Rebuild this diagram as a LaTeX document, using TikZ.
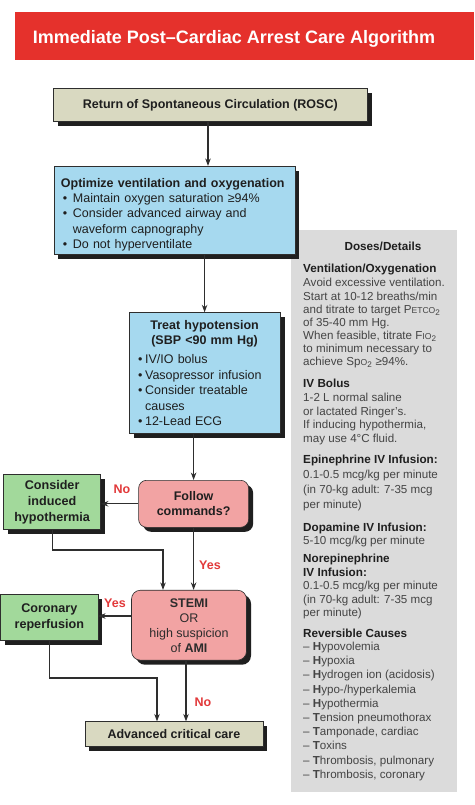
\documentclass[tikz,border=0pt]{standalone}
\usepackage{fontspec}
\setmainfont{Liberation Sans}
\usetikzlibrary{arrows.meta,shadows,calc}
\definecolor{titlered}{HTML}{E5312C}
\definecolor{boxbeige}{HTML}{D9D9C1}
\definecolor{boxblue}{HTML}{A6D9EF}
\definecolor{boxpink}{HTML}{F2A3A3}
\definecolor{boxgreen}{HTML}{A2D99B}
\definecolor{panelgray}{HTML}{DBDBDB}
\definecolor{labelred}{HTML}{E2393A}
\definecolor{linegray}{HTML}{2E2E2E}
\definecolor{txtdark}{HTML}{1F1F1F}
\definecolor{txtbody}{HTML}{2C2C2C}
\definecolor{ptxtgray}{HTML}{444444}
\newcommand{\boxfont}{\fontsize{12.5}{15.2}\selectfont}
\newcommand{\bul}{\makebox[10pt][l]{\textbullet}}
\newcommand{\tbul}{\makebox[7pt][l]{\textbullet}}
\newcommand{\smc}[1]{{\fontsize{8.6}{10}\selectfont #1}}
\begin{document}
\begin{tikzpicture}[x=1pt,y=-1pt,
  flowbox/.style={draw=linegray, line width=0.6pt, inner sep=3pt, text=txtdark, font=\boxfont,
    drop shadow={shadow xshift=4.5pt, shadow yshift=-4.5pt, fill=black!88, opacity=1}},
  conn/.style={draw=linegray, line width=1.1pt, -{Stealth[length=7.5pt,width=5.5pt]}},
  lbl/.style={font=\bfseries\fontsize{12.5}{14}\selectfont, text=labelred, inner sep=0pt},
  ptxt/.style={font=\fontsize{11.6}{14}\selectfont, text=ptxtgray, inner sep=0pt, anchor=base west},
  phead/.style={ptxt, font=\bfseries\fontsize{11.7}{14}\selectfont, text=txtdark},
]
\useasboundingbox (0,0) rectangle (474,805);
\fill[white] (0,0) rectangle (474,805);
% title band
\fill[titlered] (15,12) rectangle (474,60);
\node[font=\bfseries\fontsize{18}{20}\selectfont, text=white, inner sep=0pt] (title) at (234,39) {Immediate Post–Cardiac Arrest Care Algorithm};

% details panel
\fill[panelgray] (290.5,230) rectangle (457,792);
\node[phead, anchor=base] (pt0) at (383,250) {Doses/Details};
\node[phead] (pt1) at (303,272) {Ventilation/Oxygenation};
\node[ptxt] (pt2) at (303,286.5) {Avoid excessive ventilation.};
\node[ptxt] (pt3) at (303,300) {Start at 10-12 breaths/min};
\node[ptxt] (pt4) at (303,313.5) {and titrate to target P\smc{ETCO}\textsubscript{2}};
\node[ptxt] (pt5) at (303,326.5) {of 35-40 mm Hg.};
\node[ptxt] (pt6) at (303,339.5) {When feasible, titrate F\smc{IO}\textsubscript{2}};
\node[ptxt] (pt7) at (303,352.5) {to minimum necessary to};
\node[ptxt] (pt8) at (303,365.5) {achieve Sp\smc{O}\textsubscript{2} ≥94\%.};
\node[phead] (pt9) at (303,387.5) {IV Bolus};
\node[ptxt] (pt10) at (303,401.5) {1-2 L normal saline};
\node[ptxt] (pt11) at (303,415) {or lactated Ringer's.};
\node[ptxt] (pt12) at (303,428.5) {If inducing hypothermia,};
\node[ptxt] (pt13) at (303,442) {may use 4°C fluid.};
\node[phead] (pt14) at (303,463.5) {Epinephrine IV Infusion:};
\node[ptxt] (pt15) at (303,478.5) {0.1-0.5 mcg/kg per minute};
\node[ptxt] (pt16) at (303,493.5) {(in 70-kg adult: 7-35 mcg};
\node[ptxt] (pt17) at (303,508.5) {per minute)};
\node[phead] (pt18) at (303,531) {Dopamine IV Infusion:};
\node[ptxt] (pt19) at (303,544.5) {5-10 mcg/kg per minute};
\node[phead] (pt20) at (303,562.5) {Norepinephrine};
\node[phead] (pt21) at (303,576) {IV Infusion:};
\node[ptxt] (pt22) at (303,589.5) {0.1-0.5 mcg/kg per minute};
\node[ptxt] (pt23) at (303,603) {(in 70-kg adult: 7-35 mcg};
\node[ptxt] (pt24) at (303,616.5) {per minute)};
\node[phead] (pt25) at (303,637) {Reversible Causes};
\node[ptxt] (rc1) at (303,650.5) {– \textbf{H}ypovolemia};
\node[ptxt] (rc2) at (303,664.7) {– \textbf{H}ypoxia};
\node[ptxt] (rc3) at (303,678.9) {– \textbf{H}ydrogen ion (acidosis)};
\node[ptxt] (rc4) at (303,693.1) {– \textbf{H}ypo-/hyperkalemia};
\node[ptxt] (rc5) at (303,707.3) {– \textbf{H}ypothermia};
\node[ptxt] (rc6) at (303,721.5) {– \textbf{T}ension pneumothorax};
\node[ptxt] (rc7) at (303,735.7) {– \textbf{T}amponade, cardiac};
\node[ptxt] (rc8) at (303,749.9) {– \textbf{T}oxins};
\node[ptxt] (rc9) at (303,764.1) {– \textbf{T}hrombosis, pulmonary};
\node[ptxt] (rc10) at (303,778.3) {– \textbf{T}hrombosis, coronary};

% flow boxes
\node[flowbox, fill=boxbeige, minimum width=314pt, minimum height=33pt, font=\bfseries\boxfont] (rosc) at (210.3,105.1) {Return of Spontaneous Circulation (ROSC)};
\node[flowbox, fill=boxblue, minimum width=241pt, minimum height=88pt, text width=227pt, align=left] (opt) at (174.4,210.2) {%
\rule{0pt}{18pt}\textbf{Optimize ventilation and oxygenation}\\
\hspace*{2pt}\bul Maintain oxygen saturation ≥94\%\\
\hspace*{2pt}\bul Consider advanced airway and\\
\hspace*{12pt}waveform capnography\\
\hspace*{2pt}\bul Do not hyperventilate};
\node[flowbox, fill=boxblue, minimum width=151pt, minimum height=121pt, text width=143pt, align=left, font=\fontsize{12.5}{15.6}\selectfont] (treat) at (204.6,373.1) {%
\makebox[143pt][c]{\textbf{Treat hypotension}}\\
\makebox[143pt][c]{\textbf{(SBP <90 mm Hg)}}\\[3pt]
\hspace*{5pt}\tbul IV/IO bolus\\
\hspace*{5pt}\tbul Vasopressor infusion\\
\hspace*{5pt}\tbul Consider treatable\\
\hspace*{12pt}causes\\
\hspace*{5pt}\tbul 12-Lead ECG};
\node[flowbox, fill=boxpink, rounded corners=8pt, minimum width=110pt, minimum height=47pt, align=center, font=\bfseries\fontsize{12.5}{15}\selectfont] (follow) at (193.6,503.8) {Follow\\commands?};
\node[flowbox, fill=boxgreen, minimum width=97pt, minimum height=55pt, align=center, font=\bfseries\fontsize{12.6}{16}\selectfont] (hypo) at (52.1,501.8) {Consider\\induced\\hypothermia};
\node[flowbox, fill=boxpink, rounded corners=9pt, minimum width=115pt, minimum height=70pt, align=center, font=\fontsize{12.5}{15}\selectfont, text=txtbody] (stemi) at (189,625.2) {\textbf{STEMI}\\OR\\high suspicion\\of \textbf{AMI}};
\node[flowbox, fill=boxgreen, minimum width=97pt, minimum height=46pt, align=center, font=\bfseries\fontsize{12.6}{16}\selectfont] (cor) at (49.3,617.3) {Coronary\\reperfusion};
\node[flowbox, fill=boxbeige, minimum width=178pt, minimum height=25pt, font=\bfseries\boxfont] (adv) at (173.9,734.2) {Advanced critical care};

% connectors
\coordinate (c1) at (208,0);
\coordinate (j1) at (163,550);
\coordinate (ys) at (0,616);
\coordinate (j2) at (157,678);
\coordinate (c5) at (186,0);
\draw[conn] (rosc.south -| c1) -- (opt.north -| c1);
\draw[conn] (opt.south -| treat.north) -- (treat.north);
\draw[conn] (treat.south -| follow.north) -- (follow.north);
\draw[conn] (follow.west) -- (follow.west -| hypo.east);
\draw[conn] (follow.south) -- (follow.south |- stemi.north);
\draw[conn] (hypo.south) |- (j1) -- (j1 |- stemi.north);
\draw[conn] (stemi.west |- ys) -- (cor.east |- ys);
\draw[conn] (cor.south) |- (j2) -- (j2 |- adv.north);
\draw[conn] (stemi.south -| c5) -- (adv.north -| c5);

% labels
\node[lbl] (lno1) at (122,489) {No};
\node[lbl] (lyes1) at (210,565) {Yes};
\node[lbl] (lyes2) at (115,603) {Yes};
\node[lbl] (lno2) at (203,702) {No};
\end{tikzpicture}
\end{document}
